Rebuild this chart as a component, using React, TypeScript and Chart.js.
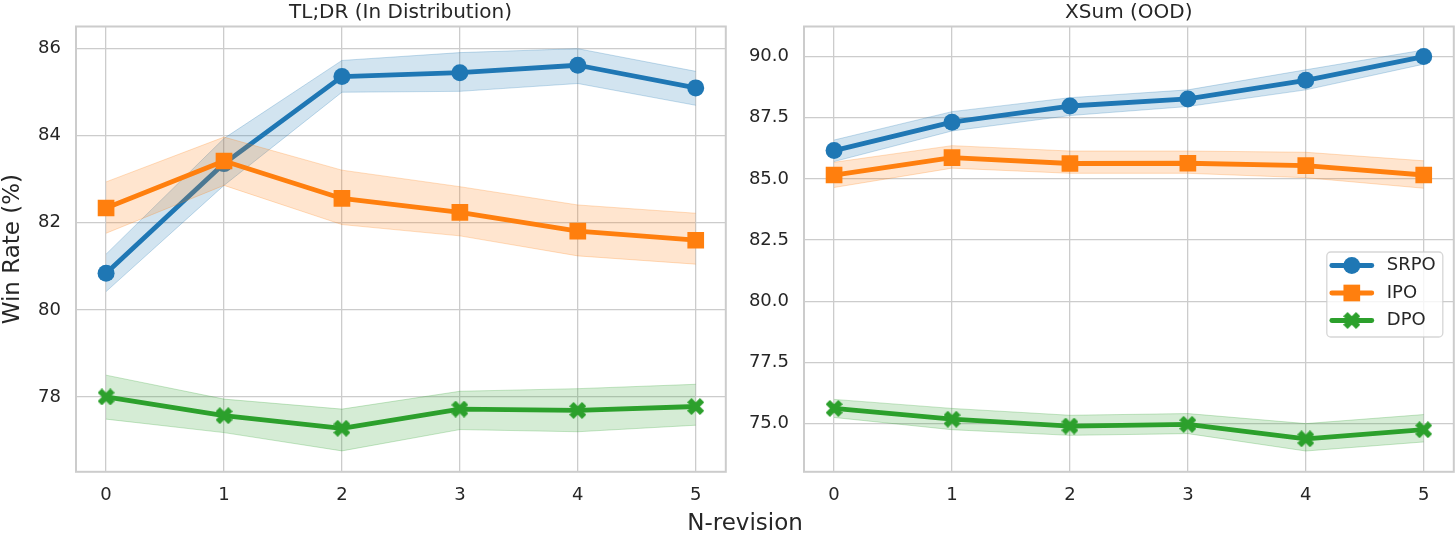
import { useEffect, useRef } from 'react';
import { Chart, registerables } from 'chart.js';

Chart.register(...registerables);

// x positions and tick labels
const nRevision = [0, 1, 2, 3, 4, 5];
const xTicks = [0, 1, 2, 3, 4, 5];
const seriesNames = ['SRPO', 'IPO', 'DPO'];

// TL;DR (In Distribution)
const tldrSrpo = [80.84, 83.36, 85.36, 85.45, 85.62, 85.1];
const tldrSrpoLow = [80.42, 82.86, 85.0, 85.02, 85.2, 84.7];
const tldrSrpoHigh = [81.28, 83.94, 85.73, 85.91, 86.0, 85.48];
const tldrIpo = [82.34, 83.42, 82.56, 82.24, 81.81, 81.6];
const tldrIpoLow = [81.76, 82.86, 81.96, 81.7, 81.24, 81.05];
const tldrIpoHigh = [82.94, 83.97, 83.21, 82.83, 82.41, 82.22];
const tldrDpo = [78.0, 77.57, 77.28, 77.72, 77.69, 77.78];
const tldrDpoLow = [77.49, 77.18, 76.76, 77.25, 77.2, 77.35];
const tldrDpoHigh = [78.5, 77.95, 77.72, 78.13, 78.19, 78.29];
const tldrYTicks = [78, 80, 82, 84, 86];

// XSum (OOD)
const xsumSrpo = [86.16, 87.32, 87.98, 88.27, 89.03, 90.0];
const xsumSrpoLow = [85.71, 86.96, 87.59, 87.96, 88.64, 89.69];
const xsumSrpoHigh = [86.59, 87.75, 88.32, 88.64, 89.46, 90.27];
const xsumIpo = [85.16, 85.87, 85.63, 85.64, 85.54, 85.16];
const xsumIpoLow = [84.65, 85.44, 85.23, 85.23, 85.05, 84.62];
const xsumIpoHigh = [85.68, 86.36, 86.14, 86.14, 86.09, 85.74];
const xsumDpo = [75.62, 75.18, 74.9, 74.97, 74.38, 74.75];
const xsumDpoLow = [75.25, 74.75, 74.52, 74.59, 73.88, 74.25];
const xsumDpoHigh = [75.99, 75.62, 75.34, 75.41, 75.0, 75.37];
const xsumYTicks = [75, 77.5, 80, 82.5, 85, 87.5, 90];

const FONT = "'DejaVu Sans', sans-serif";
const TEXT = '#262626';
const GRID = '#cccccc';
const COLORS = ['#1f77b4', '#ff7f0e', '#2ca02c'];

function rgba(hex: string, a: number) {
  const n = parseInt(hex.slice(1), 16);
  return `rgba(${(n >> 16) & 255}, ${(n >> 8) & 255}, ${n & 255}, ${a})`;
}

// filled "X" marker like matplotlib's 'X'
function makeXMarker(color: string, size: number) {
  const c = document.createElement('canvas');
  c.width = size;
  c.height = size;
  const ctx = c.getContext('2d')!;
  const s = size / 4;
  const pts = [[-1, -2], [0, -1], [1, -2], [2, -1], [1, 0], [2, 1], [1, 2], [0, 1], [-1, 2], [-2, 1], [-1, 0], [-2, -1]];
  ctx.fillStyle = color;
  ctx.beginPath();
  pts.forEach(([px, py], i) => {
    const x = size / 2 + px * s;
    const y = size / 2 + py * s;
    if (i === 0) ctx.moveTo(x, y);
    else ctx.lineTo(x, y);
  });
  ctx.closePath();
  ctx.fill();
  return c;
}

const xy = (vals: number[]) => vals.map((v, i) => ({ x: nRevision[i], y: v }));

function series(idx: number, style: any, radius: number, mean: number[], low: number[], high: number[]) {
  const color = COLORS[idx];
  const order = (3 - idx) * 2;
  return [
    {
      label: seriesNames[idx] + ' upper',
      data: xy(high),
      borderColor: rgba(color, 0.25),
      borderWidth: 1,
      pointRadius: 0,
      fill: false,
      order: order + 1,
    },
    {
      label: seriesNames[idx] + ' lower',
      data: xy(low),
      borderColor: rgba(color, 0.25),
      borderWidth: 1,
      backgroundColor: rgba(color, 0.2),
      pointRadius: 0,
      fill: '-1',
      order: order + 1,
    },
    {
      label: seriesNames[idx],
      data: xy(mean),
      borderColor: color,
      backgroundColor: color,
      borderWidth: 4.8,
      borderJoinStyle: 'round',
      borderCapStyle: 'round',
      pointStyle: style,
      pointRadius: radius,
      pointBorderWidth: 0,
      fill: false,
      order,
    },
  ];
}

const framePlugin = {
  id: 'frame',
  beforeDatasetsDraw(chart: any) {
    const { ctx, chartArea } = chart;
    ctx.save();
    ctx.strokeStyle = GRID;
    ctx.lineWidth = 2;
    ctx.strokeRect(chartArea.left, chartArea.top, chartArea.right - chartArea.left, chartArea.bottom - chartArea.top);
    ctx.restore();
  },
};

const legendPlugin = {
  id: 'boxLegend',
  afterDraw(chart: any) {
    const { ctx, chartArea } = chart;
    const items = chart.data.datasets.filter((d: any) => seriesNames.includes(d.label));
    const w = 116;
    const h = 85;
    const left = chartArea.right - 11 - w;
    const top = chartArea.top + 225.5;
    ctx.save();
    ctx.beginPath();
    ctx.roundRect(left, top, w, h, 4);
    ctx.fillStyle = 'rgba(255,255,255,0.8)';
    ctx.fill();
    ctx.strokeStyle = 'rgba(204,204,204,0.8)';
    ctx.lineWidth = 1.3;
    ctx.stroke();
    items.forEach((d: any, i: number) => {
      const y = top + 13.5 + i * 27.5;
      const x0 = left + 5;
      const x1 = left + 45;
      const xm = (x0 + x1) / 2;
      ctx.strokeStyle = d.borderColor;
      ctx.lineWidth = 4.8;
      ctx.lineCap = 'round';
      ctx.beginPath();
      ctx.moveTo(x0, y);
      ctx.lineTo(x1, y);
      ctx.stroke();
      ctx.fillStyle = d.borderColor;
      if (d.pointStyle === 'circle') {
        ctx.beginPath();
        ctx.arc(xm, y, d.pointRadius, 0, Math.PI * 2);
        ctx.fill();
      } else if (d.pointStyle === 'rect') {
        const half = d.pointRadius * Math.SQRT1_2;
        ctx.fillRect(xm - half, y - half, half * 2, half * 2);
      } else {
        const img = d.pointStyle as HTMLCanvasElement;
        ctx.drawImage(img, xm - img.width / 2, y - img.height / 2);
      }
      ctx.fillStyle = TEXT;
      ctx.font = `18px ${FONT}`;
      ctx.textBaseline = 'middle';
      ctx.textAlign = 'left';
      ctx.fillText(d.label, left + 60, y);
    });
    ctx.restore();
  },
};

interface PanelProps {
  mean: number[][];
  low: number[][];
  high: number[][];
  yMin: number;
  yMax: number;
  yTicks: number[];
  decimals: number;
  axisWidth: number;
  padRight: number;
  yTitle?: string;
  legend?: boolean;
}

function Panel({ mean, low, high, yMin, yMax, yTicks, decimals, axisWidth, padRight, yTitle, legend }: PanelProps) {
  const canvasRef = useRef<HTMLCanvasElement>(null);
  const chartRef = useRef<Chart | null>(null);

  useEffect(() => {
    if (!canvasRef.current) return;
    if (chartRef.current) chartRef.current.destroy();

    const styles: any[] = ['circle', 'rect', makeXMarker(COLORS[2], 17)];
    const radii = [8.5, 11.8, 8.5];
    const datasets = [0, 1, 2].flatMap((i) => series(i, styles[i], radii[i], mean[i], low[i], high[i]));

    chartRef.current = new Chart(canvasRef.current, {
      type: 'line',
      data: { datasets },
      options: {
        animation: false,
        responsive: true,
        maintainAspectRatio: false,
        layout: { autoPadding: false, padding: { top: 26.5, right: padRight, bottom: 0, left: 0 } },
        plugins: {
          legend: { display: false },
          tooltip: { enabled: false },
        },
        scales: {
          x: {
            type: 'linear',
            min: -0.255,
            max: 5.255,
            border: { display: false },
            grid: { color: GRID, lineWidth: 1.3, drawTicks: false },
            ticks: {
              padding: 13,
              color: TEXT,
              font: { family: FONT, size: 18 },
            },
            afterBuildTicks: (scale: any) => {
              scale.ticks = xTicks.map((v) => ({ value: v }));
            },
            afterFit: (scale: any) => {
              scale.height = 61.2;
              scale.paddingLeft = 0;
              scale.paddingRight = 0;
            },
          },
          y: {
            type: 'linear',
            min: yMin,
            max: yMax,
            border: { display: false },
            grid: { color: GRID, lineWidth: 1.3, drawTicks: false },
            title: {
              display: !!yTitle,
              text: yTitle || '',
              color: TEXT,
              padding: 0,
              font: { family: FONT, size: 23, lineHeight: 1.1 },
            },
            ticks: {
              padding: 15,
              color: TEXT,
              font: { family: FONT, size: 18 },
              callback: (v: any) => Number(v).toFixed(decimals),
            },
            afterBuildTicks: (scale: any) => {
              scale.ticks = yTicks.map((v) => ({ value: v }));
            },
            afterFit: (scale: any) => {
              scale.width = axisWidth;
              scale.paddingTop = 0;
              scale.paddingBottom = 0;
            },
          },
        },
      },
      plugins: legend ? [framePlugin, legendPlugin] : [framePlugin],
    } as any);

    return () => {
      if (chartRef.current) {
        chartRef.current.destroy();
        chartRef.current = null;
      }
    };
  }, []);

  return <canvas ref={canvasRef} />;
}

const titleStyle: any = {
  position: 'absolute',
  top: 1,
  width: 400,
  textAlign: 'center',
  fontSize: 20,
  lineHeight: '20px',
  whiteSpace: 'nowrap',
};

export default function App() {
  return (
    <div
      style={{
        position: 'absolute',
        left: 0,
        top: 0,
        width: 1455,
        height: 533,
        background: '#fff',
        fontFamily: FONT,
        color: TEXT,
        overflow: 'hidden',
      }}
    >
      <div style={{ position: 'absolute', left: 0, top: 0, width: 735, height: 533 }}>
        <Panel
          mean={[tldrSrpo, tldrIpo, tldrDpo]}
          low={[tldrSrpoLow, tldrIpoLow, tldrDpoLow]}
          high={[tldrSrpoHigh, tldrIpoHigh, tldrDpoHigh]}
          yMin={76.28}
          yMax={86.51}
          yTicks={tldrYTicks}
          decimals={0}
          axisWidth={76}
          padRight={9.2}
          yTitle="Win Rate (%)"
        />
      </div>
      <div style={{ position: 'absolute', left: 735, top: 0, width: 720, height: 533 }}>
        <Panel
          mean={[xsumSrpo, xsumIpo, xsumDpo]}
          low={[xsumSrpoLow, xsumIpoLow, xsumDpoLow]}
          high={[xsumSrpoHigh, xsumIpoHigh, xsumDpoHigh]}
          yMin={73.03}
          yMax={91.23}
          yTicks={xsumYTicks}
          decimals={1}
          axisWidth={69}
          padRight={1.2}
          legend
        />
      </div>
      <div style={{ ...titleStyle, left: 200.5 }}>TL;DR (In Distribution)</div>
      <div style={{ ...titleStyle, left: 928.8 }}>XSum (OOD)</div>
      <div
        style={{
          position: 'absolute',
          left: 545,
          top: 510.5,
          width: 400,
          textAlign: 'center',
          fontSize: 23,
          lineHeight: '23px',
        }}
      >
        N-revision
      </div>
    </div>
  );
}
